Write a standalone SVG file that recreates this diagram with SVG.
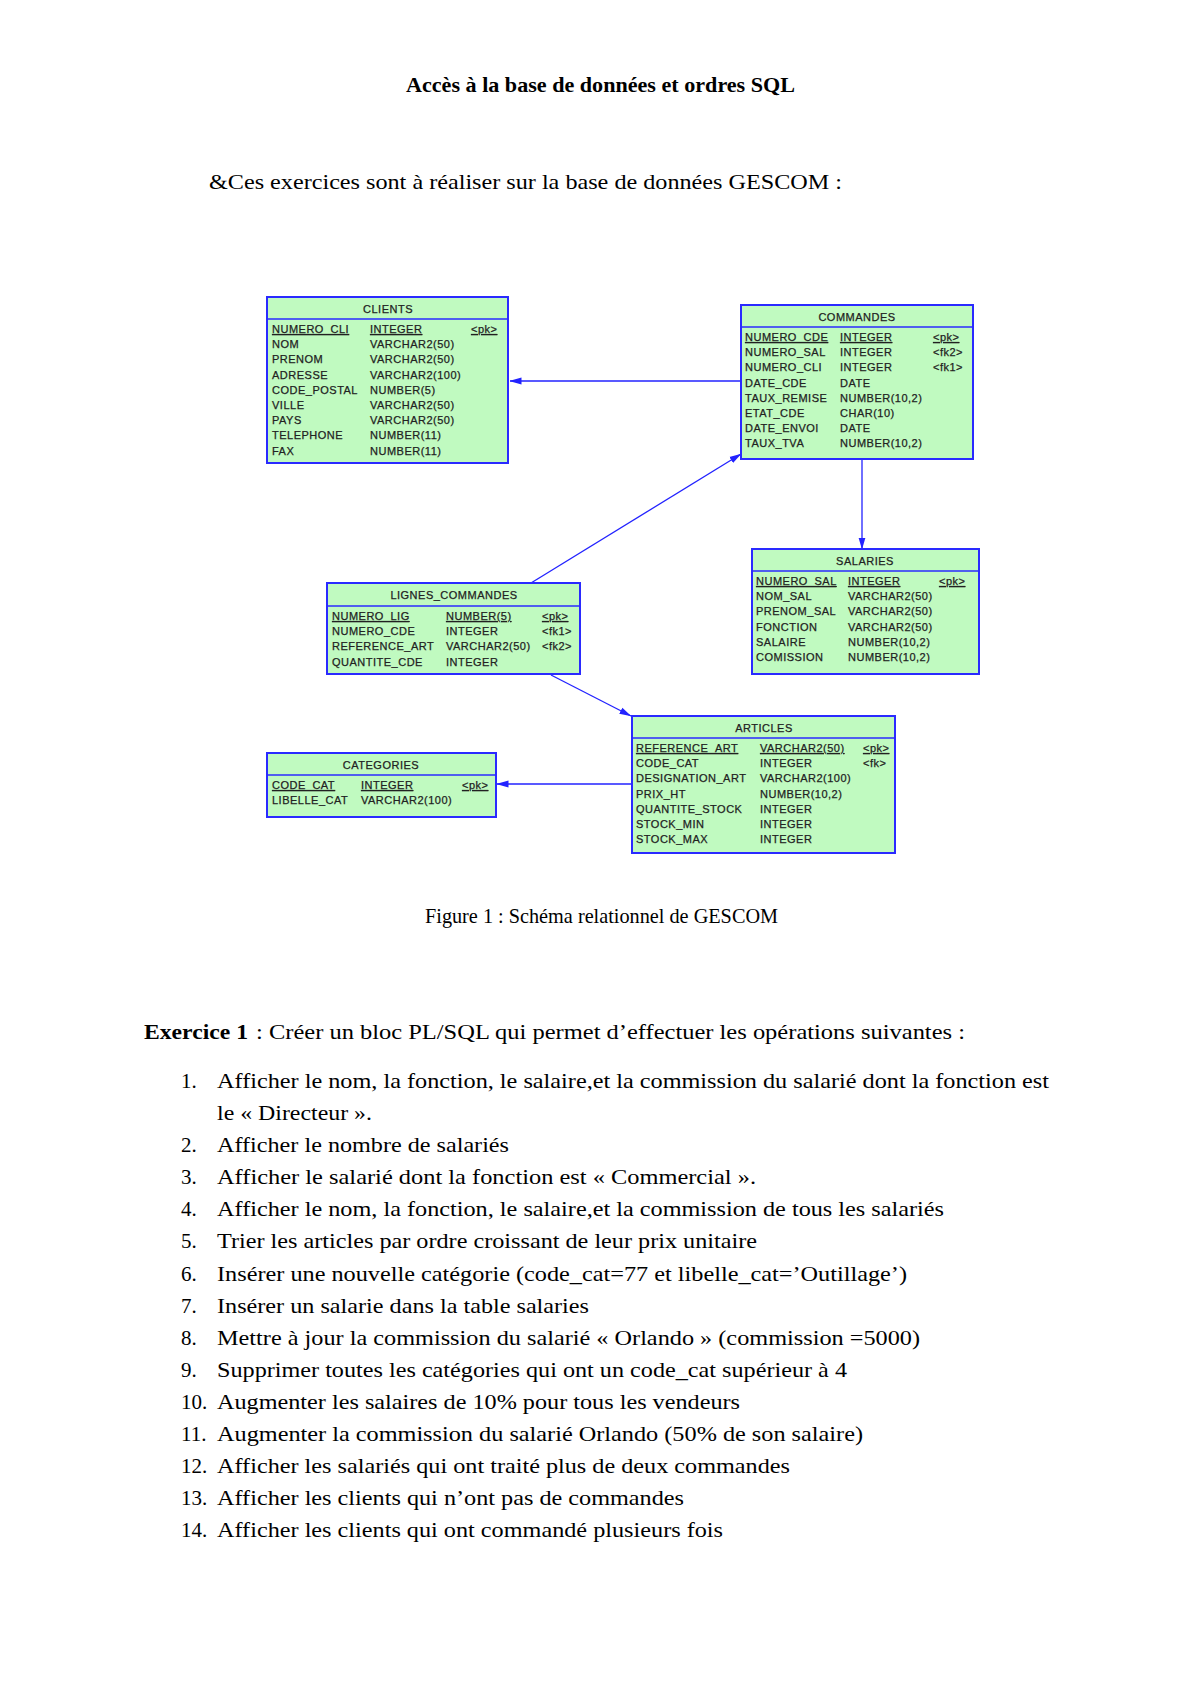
<svg xmlns="http://www.w3.org/2000/svg" width="1200" height="1698" viewBox="0 0 1200 1698">
<style>
.box{fill:#c0fac0;stroke:#2a2aff;stroke-width:2}
.sep{stroke:#2a2aff;stroke-width:1.6}
.t{font-family:"Liberation Sans",Arial,sans-serif;font-size:11px;letter-spacing:0.5px;fill:#222;stroke:#222;stroke-width:0.25}
.h{text-anchor:middle}
.u{text-decoration:underline}
.conn{stroke:#2222ff;stroke-width:1.3;fill:none}
.doc{font-family:"Liberation Serif","Times New Roman",serif;font-size:21px;fill:#000}
.b{font-weight:bold}
</style>
<defs>
<marker id="ah" markerWidth="12" markerHeight="8" refX="11.5" refY="4" orient="auto" markerUnits="userSpaceOnUse">
<path d="M0,0.5 L12,4 L0,7.5 z" fill="#2222ff"/>
</marker>
</defs>
<rect width="1200" height="1698" fill="#fff"/>

<text class="doc b" x="406" y="92" textLength="389" lengthAdjust="spacingAndGlyphs">Accès à la base de données et ordres SQL</text>
<text class="doc" x="209" y="189" textLength="633" lengthAdjust="spacingAndGlyphs">&amp;Ces exercices sont à réaliser sur la base de données GESCOM :</text>

<g id="connectors">
<line class="conn" x1="741" y1="381" x2="510" y2="381" marker-end="url(#ah)"/>
<line class="conn" x1="862" y1="459" x2="862" y2="549" marker-end="url(#ah)"/>
<line class="conn" x1="531" y1="583" x2="741" y2="454" marker-end="url(#ah)"/>
<line class="conn" x1="551" y1="675" x2="631" y2="716" marker-end="url(#ah)"/>
<line class="conn" x1="632" y1="784" x2="497" y2="784" marker-end="url(#ah)"/>
</g>

<g id="clients">
<rect class="box" x="267" y="297" width="241" height="166"/>
<line class="sep" x1="267" y1="319" x2="508" y2="319"/>
<text class="t h" x="388" y="312.5">CLIENTS</text>
<text class="t u" x="272" y="333">NUMERO_CLI</text><text class="t u" x="370" y="333">INTEGER</text><text class="t u" x="471" y="333">&lt;pk&gt;</text>
<text class="t" x="272" y="348.2">NOM</text><text class="t" x="370" y="348.2">VARCHAR2(50)</text>
<text class="t" x="272" y="363.4">PRENOM</text><text class="t" x="370" y="363.4">VARCHAR2(50)</text>
<text class="t" x="272" y="378.6">ADRESSE</text><text class="t" x="370" y="378.6">VARCHAR2(100)</text>
<text class="t" x="272" y="393.8">CODE_POSTAL</text><text class="t" x="370" y="393.8">NUMBER(5)</text>
<text class="t" x="272" y="409">VILLE</text><text class="t" x="370" y="409">VARCHAR2(50)</text>
<text class="t" x="272" y="424.2">PAYS</text><text class="t" x="370" y="424.2">VARCHAR2(50)</text>
<text class="t" x="272" y="439.4">TELEPHONE</text><text class="t" x="370" y="439.4">NUMBER(11)</text>
<text class="t" x="272" y="454.6">FAX</text><text class="t" x="370" y="454.6">NUMBER(11)</text>
</g>

<g id="commandes">
<rect class="box" x="741" y="305" width="232" height="154"/>
<line class="sep" x1="741" y1="327" x2="973" y2="327"/>
<text class="t h" x="857" y="320.5">COMMANDES</text>
<text class="t u" x="745" y="341">NUMERO_CDE</text><text class="t u" x="840" y="341">INTEGER</text><text class="t u" x="933" y="341">&lt;pk&gt;</text>
<text class="t" x="745" y="356.2">NUMERO_SAL</text><text class="t" x="840" y="356.2">INTEGER</text><text class="t" x="933" y="356.2">&lt;fk2&gt;</text>
<text class="t" x="745" y="371.4">NUMERO_CLI</text><text class="t" x="840" y="371.4">INTEGER</text><text class="t" x="933" y="371.4">&lt;fk1&gt;</text>
<text class="t" x="745" y="386.6">DATE_CDE</text><text class="t" x="840" y="386.6">DATE</text>
<text class="t" x="745" y="401.8">TAUX_REMISE</text><text class="t" x="840" y="401.8">NUMBER(10,2)</text>
<text class="t" x="745" y="417">ETAT_CDE</text><text class="t" x="840" y="417">CHAR(10)</text>
<text class="t" x="745" y="432.2">DATE_ENVOI</text><text class="t" x="840" y="432.2">DATE</text>
<text class="t" x="745" y="447.4">TAUX_TVA</text><text class="t" x="840" y="447.4">NUMBER(10,2)</text>
</g>

<g id="salaries">
<rect class="box" x="752" y="549" width="227" height="125"/>
<line class="sep" x1="752" y1="571" x2="979" y2="571"/>
<text class="t h" x="865" y="564.5">SALARIES</text>
<text class="t u" x="756" y="585">NUMERO_SAL</text><text class="t u" x="848" y="585">INTEGER</text><text class="t u" x="939" y="585">&lt;pk&gt;</text>
<text class="t" x="756" y="600.2">NOM_SAL</text><text class="t" x="848" y="600.2">VARCHAR2(50)</text>
<text class="t" x="756" y="615.4">PRENOM_SAL</text><text class="t" x="848" y="615.4">VARCHAR2(50)</text>
<text class="t" x="756" y="630.6">FONCTION</text><text class="t" x="848" y="630.6">VARCHAR2(50)</text>
<text class="t" x="756" y="645.8">SALAIRE</text><text class="t" x="848" y="645.8">NUMBER(10,2)</text>
<text class="t" x="756" y="661">COMISSION</text><text class="t" x="848" y="661">NUMBER(10,2)</text>
</g>

<g id="lignes_commandes">
<rect class="box" x="327" y="583" width="253" height="91"/>
<line class="sep" x1="327" y1="606" x2="580" y2="606"/>
<text class="t h" x="454" y="599">LIGNES_COMMANDES</text>
<text class="t u" x="332" y="620">NUMERO_LIG</text><text class="t u" x="446" y="620">NUMBER(5)</text><text class="t u" x="542" y="620">&lt;pk&gt;</text>
<text class="t" x="332" y="635.2">NUMERO_CDE</text><text class="t" x="446" y="635.2">INTEGER</text><text class="t" x="542" y="635.2">&lt;fk1&gt;</text>
<text class="t" x="332" y="650.4">REFERENCE_ART</text><text class="t" x="446" y="650.4">VARCHAR2(50)</text><text class="t" x="542" y="650.4">&lt;fk2&gt;</text>
<text class="t" x="332" y="665.6">QUANTITE_CDE</text><text class="t" x="446" y="665.6">INTEGER</text>
</g>

<g id="articles">
<rect class="box" x="632" y="716" width="263" height="137"/>
<line class="sep" x1="632" y1="738" x2="895" y2="738"/>
<text class="t h" x="764" y="731.5">ARTICLES</text>
<text class="t u" x="636" y="752">REFERENCE_ART</text><text class="t u" x="760" y="752">VARCHAR2(50)</text><text class="t u" x="863" y="752">&lt;pk&gt;</text>
<text class="t" x="636" y="767.2">CODE_CAT</text><text class="t" x="760" y="767.2">INTEGER</text><text class="t" x="863" y="767.2">&lt;fk&gt;</text>
<text class="t" x="636" y="782.4">DESIGNATION_ART</text><text class="t" x="760" y="782.4">VARCHAR2(100)</text>
<text class="t" x="636" y="797.6">PRIX_HT</text><text class="t" x="760" y="797.6">NUMBER(10,2)</text>
<text class="t" x="636" y="812.8">QUANTITE_STOCK</text><text class="t" x="760" y="812.8">INTEGER</text>
<text class="t" x="636" y="828">STOCK_MIN</text><text class="t" x="760" y="828">INTEGER</text>
<text class="t" x="636" y="843.2">STOCK_MAX</text><text class="t" x="760" y="843.2">INTEGER</text>
</g>

<g id="categories">
<rect class="box" x="267" y="753" width="229" height="64"/>
<line class="sep" x1="267" y1="775" x2="496" y2="775"/>
<text class="t h" x="381" y="768.5">CATEGORIES</text>
<text class="t u" x="272" y="789">CODE_CAT</text><text class="t u" x="361" y="789">INTEGER</text><text class="t u" x="462" y="789">&lt;pk&gt;</text>
<text class="t" x="272" y="804.2">LIBELLE_CAT</text><text class="t" x="361" y="804.2">VARCHAR2(100)</text>
</g>

<text class="doc" x="425" y="923" textLength="353" lengthAdjust="spacingAndGlyphs">Figure 1 : Schéma relationnel de GESCOM</text>

<text class="doc b" x="144" y="1039" textLength="104" lengthAdjust="spacingAndGlyphs">Exercice 1</text>
<text class="doc" x="256" y="1039" textLength="709" lengthAdjust="spacingAndGlyphs">: Créer un bloc PL/SQL qui permet d’effectuer les opérations suivantes :</text>

<g class="doc">
<text x="181" y="1088">1.</text><text x="217" y="1088" textLength="832" lengthAdjust="spacingAndGlyphs">Afficher le nom, la fonction, le salaire,et la commission du salarié dont la fonction est</text>
<text x="217" y="1120" textLength="155" lengthAdjust="spacingAndGlyphs">le « Directeur ».</text>
<text x="181" y="1152">2.</text><text x="217" y="1152" textLength="292" lengthAdjust="spacingAndGlyphs">Afficher le nombre de salariés</text>
<text x="181" y="1184">3.</text><text x="217" y="1184" textLength="539" lengthAdjust="spacingAndGlyphs">Afficher le salarié dont la fonction est « Commercial ».</text>
<text x="181" y="1216">4.</text><text x="217" y="1216" textLength="727" lengthAdjust="spacingAndGlyphs">Afficher le nom, la fonction, le salaire,et la commission de tous les salariés</text>
<text x="181" y="1248">5.</text><text x="217" y="1248" textLength="540" lengthAdjust="spacingAndGlyphs">Trier les articles par ordre croissant de leur prix unitaire</text>
<text x="181" y="1281">6.</text><text x="217" y="1281" textLength="690" lengthAdjust="spacingAndGlyphs">Insérer une nouvelle catégorie (code_cat=77 et libelle_cat=’Outillage’)</text>
<text x="181" y="1313">7.</text><text x="217" y="1313" textLength="372" lengthAdjust="spacingAndGlyphs">Insérer un salarie dans la table salaries</text>
<text x="181" y="1345">8.</text><text x="217" y="1345" textLength="703" lengthAdjust="spacingAndGlyphs">Mettre à jour la commission du salarié « Orlando » (commission =5000)</text>
<text x="181" y="1377">9.</text><text x="217" y="1377" textLength="630" lengthAdjust="spacingAndGlyphs">Supprimer toutes les catégories qui ont un code_cat supérieur à 4</text>
<text x="181" y="1409">10.</text><text x="217" y="1409" textLength="523" lengthAdjust="spacingAndGlyphs">Augmenter les salaires de 10% pour tous les vendeurs</text>
<text x="181" y="1441">11.</text><text x="217" y="1441" textLength="646" lengthAdjust="spacingAndGlyphs">Augmenter la commission du salarié Orlando (50% de son salaire)</text>
<text x="181" y="1473">12.</text><text x="217" y="1473" textLength="573" lengthAdjust="spacingAndGlyphs">Afficher les salariés qui ont traité plus de deux commandes</text>
<text x="181" y="1505">13.</text><text x="217" y="1505" textLength="467" lengthAdjust="spacingAndGlyphs">Afficher les clients qui n’ont pas de commandes</text>
<text x="181" y="1537">14.</text><text x="217" y="1537" textLength="506" lengthAdjust="spacingAndGlyphs">Afficher les clients qui ont commandé plusieurs fois</text>
</g>
</svg>
